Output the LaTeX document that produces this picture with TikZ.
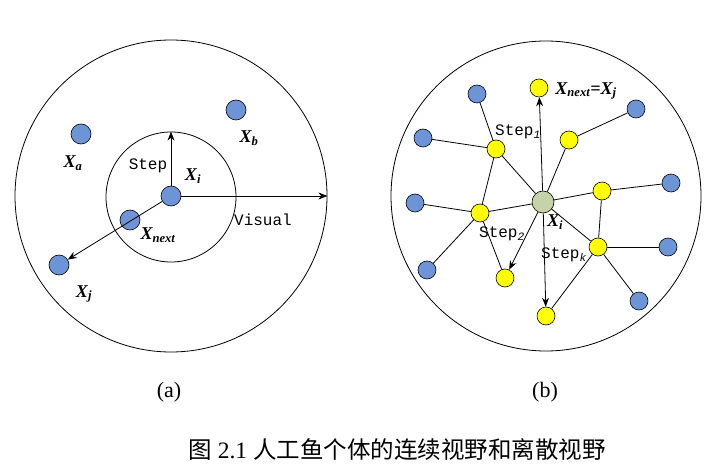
\documentclass[tikz,border=0pt]{standalone}
\usepackage{fontspec}
\setmainfont{Liberation Serif}
\newfontfamily\cjkfont{Noto Sans CJK SC}
\newfontfamily\monofont{Liberation Mono}
\usetikzlibrary{arrows.meta}
\definecolor{fishblue}{RGB}{108,148,214}
\definecolor{fishyellow}{RGB}{255,255,0}
\definecolor{fishgreen}{RGB}{196,212,168}
\begin{document}
\begin{tikzpicture}[x=1pt,y=-1pt,
  ring/.style={draw=black,circle,line width=0.8pt,inner sep=0pt},
  bluen/.style={circle,draw=black,fill=fishblue,minimum size=20pt,inner sep=0pt,line width=0.6pt},
  yellown/.style={circle,draw=black,fill=fishyellow,minimum size=18pt,inner sep=0pt,line width=0.6pt},
  greenn/.style={circle,draw=black,fill=fishgreen,minimum size=22pt,inner sep=0pt,line width=0.6pt},
  link/.style={draw=black,line width=0.8pt},
  arr/.style={link,-{Stealth[length=9pt,width=7pt]}},
  xlab/.style={font=\fontsize{18}{18}\selectfont\bfseries\itshape,inner sep=0pt},
  slab/.style={font=\fontsize{16}{16}\selectfont\monofont,inner sep=0pt},
  caplab/.style={font=\fontsize{22}{22}\selectfont,inner sep=0pt}]
\useasboundingbox (0,0) rectangle (712,470);
\fill[white] (0,0) rectangle (712,470);

% ---------- (a) ----------
\node[ring,minimum size=312pt] (outerA) at (171,196) {};
\node[ring,minimum size=130pt] (innerA) at (171,197) {};
\node[bluen] (xa) at (81,134) {};
\node[bluen] (xb) at (236,110) {};
\node[bluen] (xnext) at (130,220) {};
\node[bluen] (xj) at (59,265) {};
\node[bluen] (xi) at (171,196) {};
\draw[arr] (xi) -- (innerA.north);
\draw[arr] (xi) -- (outerA.east);
\draw[arr] (xi) -- (xj);

\node[xlab] (lxa) at (73,163) {X\textsubscript{a}};
\node[xlab] (lxb) at (249,138) {X\textsubscript{b}};
\node[slab] (lstep) at (148,166) {Step};
\node[xlab] (lxi) at (193,176) {X\textsubscript{i}};
\node[slab] (lvis) at (263,220) {Visual};
\node[xlab] (lxnext) at (158,235) {X\textsubscript{next}};
\node[xlab] (lxj) at (84,294) {X\textsubscript{j}};

% ---------- (b) ----------
\node[ring,minimum size=310pt] (outerB) at (546,196) {};
\node[greenn] (gxi) at (543,202) {};
\node[yellown] (y1) at (539,88) {};
\node[yellown] (y2) at (496,149) {};
\node[yellown] (y3) at (569,140) {};
\node[yellown] (y4) at (602,191) {};
\node[yellown] (y5) at (480,213) {};
\node[yellown] (y6) at (598,247) {};
\node[yellown] (y7) at (505,278) {};
\node[yellown] (y8) at (546,316) {};
\node[bluen,minimum size=18pt] (b1) at (477,94) {};
\node[bluen,minimum size=18pt] (b2) at (423,138) {};
\node[bluen,minimum size=18pt] (b3) at (636,109) {};
\node[bluen,minimum size=18pt] (b4) at (415,203) {};
\node[bluen,minimum size=18pt] (b5) at (671,183) {};
\node[bluen,minimum size=18pt] (b6) at (427,270) {};
\node[bluen,minimum size=18pt] (b7) at (668,247) {};
\node[bluen,minimum size=18pt] (b8) at (639,301) {};

\draw[link] (gxi) -- (y2);
\draw[link] (y2) -- (b1);
\draw[link] (y2) -- (b2);
\draw[link] (y2) -- (y5);
\draw[link] (gxi) -- (y5);
\draw[link] (y5) -- (b4);
\draw[link] (y5) -- (b6);
\draw[link] (y5) -- (y7);
\draw[link] (gxi) -- (y3);
\draw[link] (y3) -- (b3);
\draw[link] (gxi) -- (y4);
\draw[link] (y4) -- (b5);
\draw[link] (y4) -- (y6);
\draw[link] (gxi) -- (y6);
\draw[link] (y6) -- (b7);
\draw[link] (y6) -- (b8);
\draw[link] (y6) -- (y8);
\draw[arr] (gxi) -- (y1);
\draw[arr] (gxi) -- (y7);
\draw[arr] (gxi) -- (y8);

\node[slab] (lstep1) at (518,132) {Step\textsubscript{\itshape 1}};
\node[xlab] (lxnj) at (586,91) {X\textsubscript{next}=X\textsubscript{j}};
\node[xlab] (lgxi) at (555,222) {X\textsubscript{i}};
\node[slab] (lstep2) at (502,234) {Step\textsubscript{\itshape 2}};
\node[slab] (lstepk) at (564,255) {Step\textsubscript{\itshape k}};

% ---------- captions ----------
\node[caplab] (capa) at (169,392) {(a)};
\node[caplab] (capb) at (545,392) {(b)};
\node[font=\fontsize{23.5}{23.5}\selectfont,inner sep=0pt] (cap) at (397,450) {{\cjkfont 图} 2.1 {\cjkfont 人工鱼个体的连续视野和离散视野}};
\end{tikzpicture}
\end{document}
